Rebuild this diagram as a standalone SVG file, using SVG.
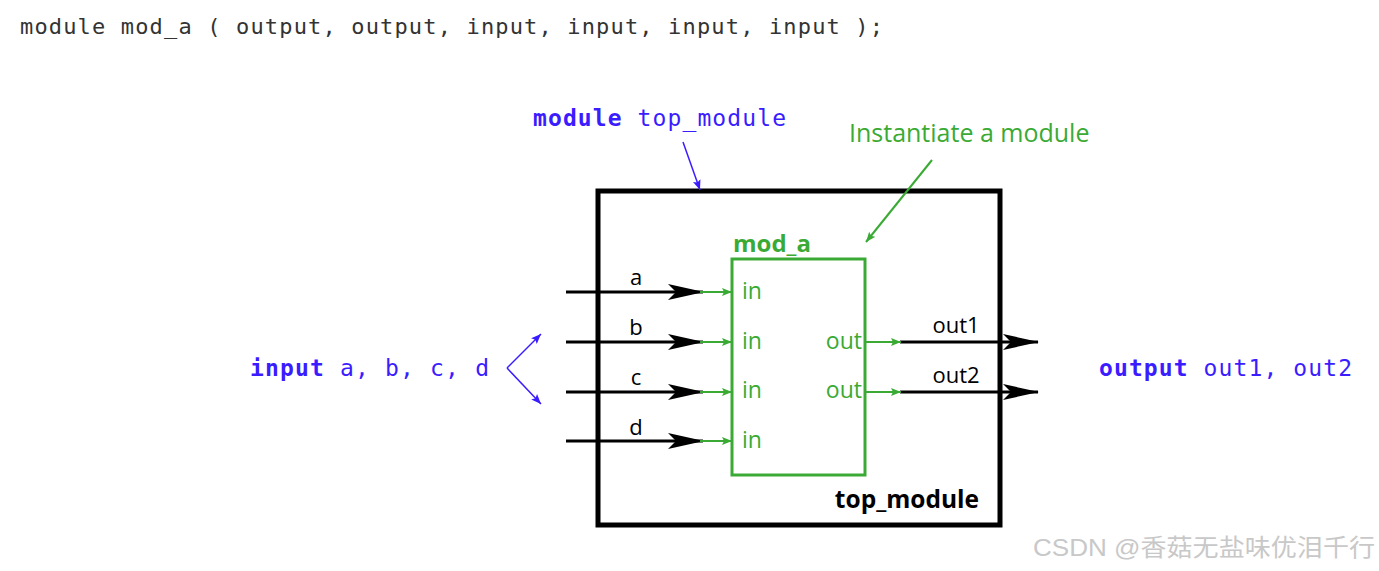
<svg xmlns="http://www.w3.org/2000/svg" width="1379" height="571" viewBox="0 0 1379 571">
<style>
.mono{font-family:"DejaVu Sans Mono","Liberation Mono",monospace}
.sans{font-family:"Open Sans","DejaVu Sans",sans-serif}
.blue{fill:#3a1cff}
.green{fill:#3aaa35}
</style>
<defs>
<marker id="bk" markerWidth="36" markerHeight="18" refX="35" refY="9" orient="auto" markerUnits="userSpaceOnUse"><path d="M0,1 L36,9 L0,17 L8,9 Z" fill="#000"/></marker>
<marker id="gr" markerWidth="10" markerHeight="8" refX="10" refY="4" orient="auto" markerUnits="userSpaceOnUse"><path d="M0,0 L10,4 L0,8 L2,4 Z" fill="#3aaa35"/></marker>
<marker id="bl" markerWidth="10" markerHeight="8" refX="10" refY="4" orient="auto" markerUnits="userSpaceOnUse"><path d="M0,0 L10,4 L0,8 L2,4 Z" fill="#3a1cff"/></marker>
</defs>
<rect width="1379" height="571" fill="#fff"/>
<text x="20" y="34" class="mono" font-size="22" fill="#333" textLength="863" lengthAdjust="spacing">module mod_a ( output, output, input, input, input, input );</text>
<g id="top_module">
<rect x="598" y="191" width="402" height="334" fill="none" stroke="#000" stroke-width="5"/>
<text x="979" y="508" class="sans" font-size="24.5" font-weight="bold" text-anchor="end">top_module</text>
</g>
<g id="mod_a">
<rect x="732" y="259" width="133" height="216" fill="none" stroke="#3aaa35" stroke-width="3"/>
<text x="733" y="252" class="sans green" font-size="24" font-weight="bold">mod_a</text>
<text x="742" y="299" class="sans green" font-size="23">in</text>
<text x="742" y="349" class="sans green" font-size="23">in</text>
<text x="742" y="398" class="sans green" font-size="23">in</text>
<text x="742" y="448" class="sans green" font-size="23">in</text>
<text x="862" y="349" class="sans green" font-size="23" text-anchor="end">out</text>
<text x="862" y="398" class="sans green" font-size="23" text-anchor="end">out</text>
</g>
<g id="labels">
<text x="533" y="126" class="mono" font-size="23" textLength="253" lengthAdjust="spacing"><tspan class="blue" font-weight="bold">module</tspan><tspan class="blue"> top_module</tspan></text>
<text x="849" y="142" class="sans green" font-size="25">Instantiate a module</text>
<text x="250" y="376" class="mono" font-size="23" textLength="239" lengthAdjust="spacing"><tspan class="blue" font-weight="bold">input</tspan><tspan class="blue"> a, b, c, d</tspan></text>
<text x="1099" y="376" class="mono" font-size="23" textLength="253" lengthAdjust="spacing"><tspan class="blue" font-weight="bold">output</tspan><tspan class="blue"> out1, out2</tspan></text>
<text x="636" y="285" class="sans" font-size="22" text-anchor="middle">a</text>
<text x="636" y="335" class="sans" font-size="22" text-anchor="middle">b</text>
<text x="636" y="385" class="sans" font-size="22" text-anchor="middle">c</text>
<text x="636" y="435" class="sans" font-size="22" text-anchor="middle">d</text>
<text x="956" y="333" class="sans" font-size="22" text-anchor="middle">out1</text>
<text x="956" y="383" class="sans" font-size="22" text-anchor="middle">out2</text>
<text x="1375" y="556" font-family="'Liberation Sans','Noto Sans CJK SC',sans-serif" font-size="24" fill="#c8c8c8" text-anchor="end" textLength="342" lengthAdjust="spacingAndGlyphs">CSDN @香菇无盐味优泪千行</text>
</g>
<g id="connectors" fill="none">
<g stroke="#000" stroke-width="3" marker-end="url(#bk)">
<line x1="566" y1="292" x2="703" y2="292"/>
<line x1="566" y1="342" x2="703" y2="342"/>
<line x1="566" y1="392" x2="703" y2="392"/>
<line x1="566" y1="441" x2="703" y2="441"/>
<line x1="900" y1="342" x2="1038" y2="342"/>
<line x1="900" y1="392" x2="1038" y2="392"/>
</g>
<g stroke="#3aaa35" stroke-width="2" marker-end="url(#gr)">
<line x1="700" y1="292" x2="732" y2="292"/>
<line x1="700" y1="342" x2="732" y2="342"/>
<line x1="700" y1="392" x2="732" y2="392"/>
<line x1="700" y1="441" x2="732" y2="441"/>
<line x1="866" y1="342" x2="901" y2="342"/>
<line x1="866" y1="392" x2="901" y2="392"/>
<line x1="932" y1="160" x2="866" y2="242"/>
</g>
<g stroke="#3a1cff" stroke-width="1.5" marker-end="url(#bl)">
<line x1="683" y1="142" x2="700" y2="190"/>
<line x1="507" y1="368" x2="541" y2="334"/>
<line x1="507" y1="368" x2="541" y2="404"/>
</g>
</g>
</svg>
